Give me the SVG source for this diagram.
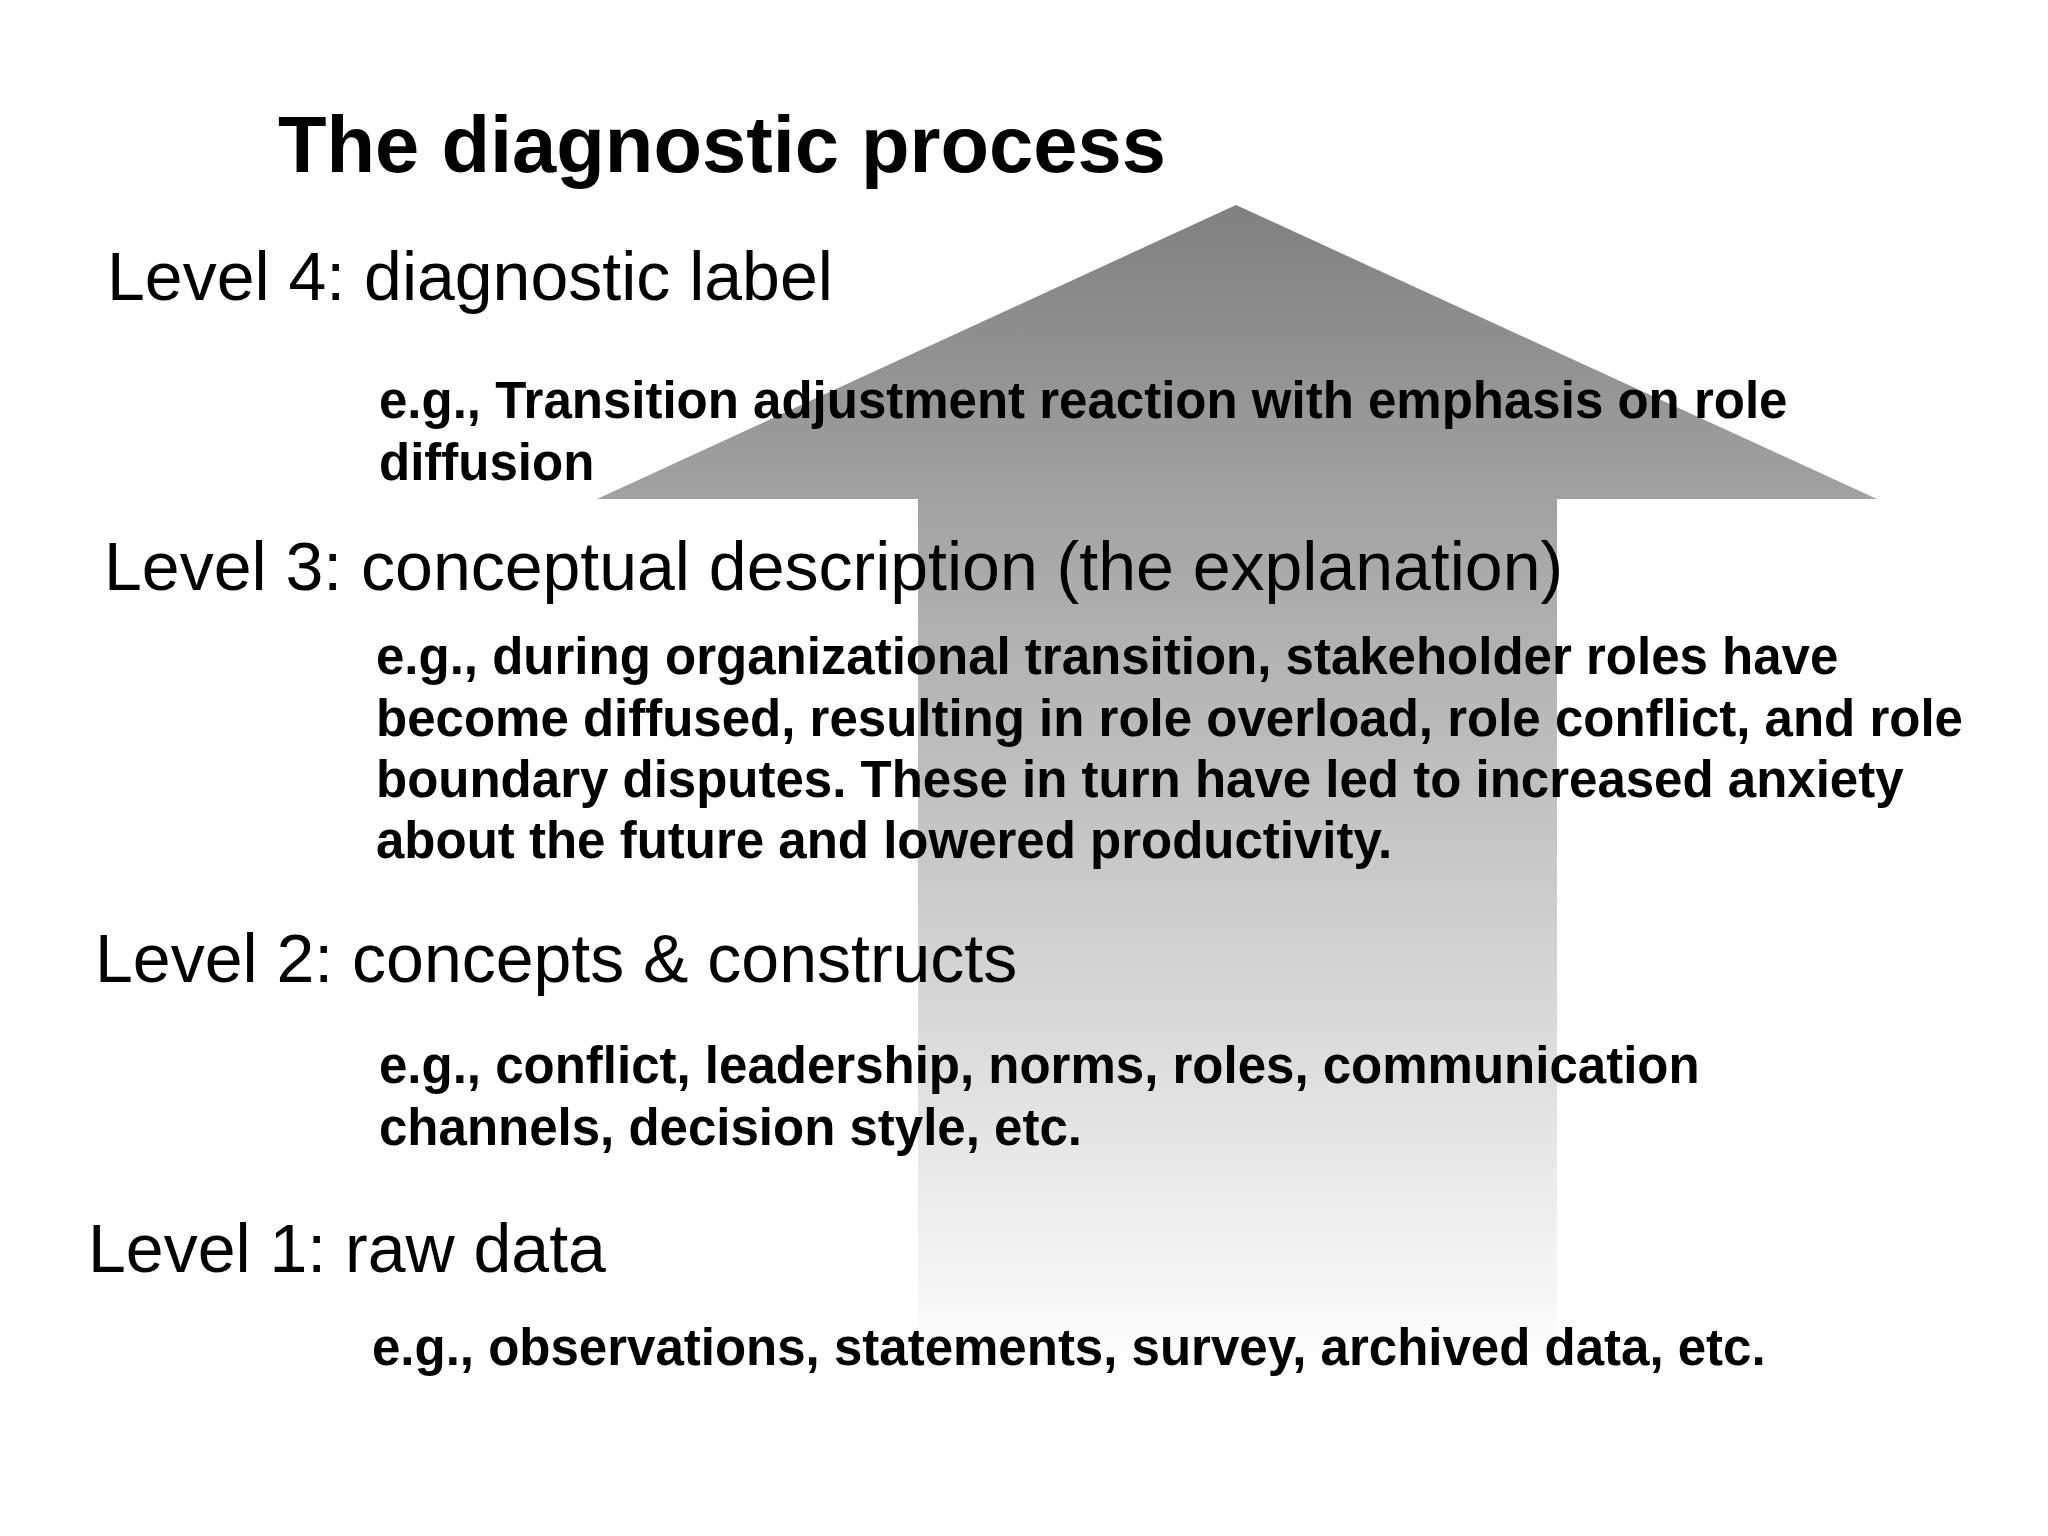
<svg xmlns="http://www.w3.org/2000/svg" width="2048" height="1536" viewBox="0 0 2048 1536">
<defs>
<linearGradient id="g" x1="0" y1="205" x2="0" y2="1375" gradientUnits="userSpaceOnUse">
<stop offset="0" stop-color="#808080"/>
<stop offset="0.3" stop-color="#a8a8a8"/>
<stop offset="1" stop-color="#ffffff"/>
</linearGradient>
<style>
.t{font-family:"Liberation Sans",Arial,sans-serif;fill:#000}
.lv{font-size:68px}
.eg{font-size:51px;font-weight:bold}
</style>
</defs>
<rect width="2048" height="1536" fill="#fff"/>
<g id="arrow">
<path d="M1236,205 L1877,499 L1557,499 L1557,1375 L918,1375 L918,499 L597,499 Z" fill="url(#g)"/>
</g>
<g id="title"><text class="t" x="278" y="172" font-size="79.5" font-weight="bold">The diagnostic process</text></g>
<g id="level4">
<text class="t lv" x="107" y="300">Level 4: diagnostic label</text>
<text class="t eg" x="379" y="418">e.g., Transition adjustment reaction with emphasis on role</text>
<text class="t eg" x="379" y="480">diffusion</text>
</g>
<g id="level3">
<text class="t lv" x="104" y="590">Level 3: conceptual description (the explanation)</text>
<text class="t eg" x="376" y="674">e.g., during organizational transition, stakeholder roles have</text>
<text class="t eg" x="376" y="736">become diffused, resulting in role overload, role conflict, and role</text>
<text class="t eg" x="376" y="797">boundary disputes. These in turn have led to increased anxiety</text>
<text class="t eg" x="376" y="858">about the future and lowered productivity.</text>
</g>
<g id="level2">
<text class="t lv" x="95" y="982">Level 2: concepts &amp; constructs</text>
<text class="t eg" x="379" y="1083">e.g., conflict, leadership, norms, roles, communication</text>
<text class="t eg" x="379" y="1145">channels, decision style, etc.</text>
</g>
<g id="level1">
<text class="t lv" x="88" y="1272">Level 1: raw data</text>
<text class="t eg" x="372" y="1365">e.g., observations, statements, survey, archived data, etc.</text>
</g>
<g id="connectors"/>
</svg>
